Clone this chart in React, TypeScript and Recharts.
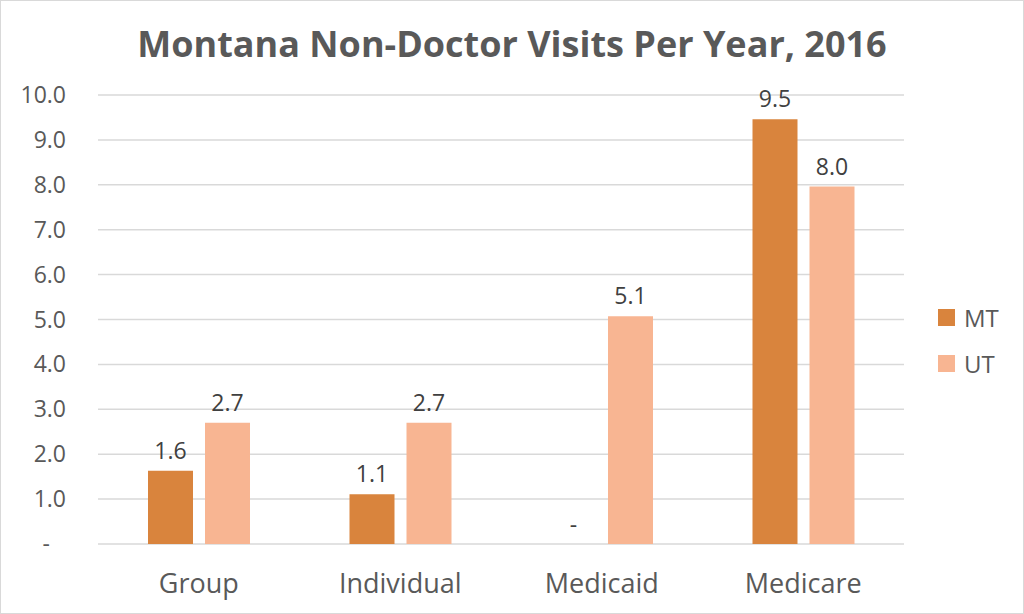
import { Bar, BarChart, CartesianGrid, LabelList, Rectangle, XAxis, YAxis } from 'recharts';

const categories = ['Group', 'Individual', 'Medicaid', 'Medicare'];
const mtValues = [1.63, 1.11, 0, 9.46];
const utValues = [2.7, 2.7, 5.07, 7.96];
const yTicks = [0, 1, 2, 3, 4, 5, 6, 7, 8, 9, 10];
const seriesNames = ['MT', 'UT'];
const seriesColors = ['#d9843d', '#f8b592'];

const data = categories.map((name, i) => ({ name, MT: mtValues[i], UT: utValues[i] }));

const font = '"Open Sans", "DejaVu Sans", sans-serif';
const textColor = '#595959';

const formatLabel = (v: unknown) => {
  const n = Number(v);
  return n === 0 ? '-' : n.toFixed(1);
};

function YTick(props: any) {
  const { x, y, payload } = props;
  const v = payload.value as number;
  return (
    <text
      x={v === 0 ? x - 16 : x}
      y={y}
      dy={8}
      textAnchor="end"
      fill={textColor}
      fontSize={23}
      fontFamily={font}
    >
      {v === 0 ? '-' : v.toFixed(1)}
    </text>
  );
}

function BarLabel(props: any) {
  const { x, y, width, value } = props;
  const zero = Number(value) === 0;
  return (
    <text
      x={x + width / 2}
      y={zero ? y - 10 : y - 12}
      textAnchor="middle"
      fill="#404040"
      fontSize={23}
      fontFamily={font}
    >
      {formatLabel(value)}
    </text>
  );
}

// zero values get a 1px placeholder so the "-" label is drawn, but the rect itself is hidden
function BarShape(props: any) {
  if (props.height <= 1) return <g />;
  return <Rectangle {...props} />;
}

export default function App() {
  return (
    <div
      style={{
        position: 'absolute',
        left: 0,
        top: 0,
        width: 1024,
        height: 614,
        boxSizing: 'border-box',
        border: '1px solid #d9d9d9',
        background: '#fff',
        fontFamily: font
      }}
    >
      <div
        style={{
          position: 'absolute',
          top: 18,
          left: 0,
          width: 1022,
          textAlign: 'center',
          fontSize: 36,
          fontWeight: 700,
          color: textColor,
          lineHeight: '50px'
        }}
      >
        Montana Non-Doctor Visits Per Year, 2016
      </div>
      <BarChart
        width={1022}
        height={612}
        data={data}
        margin={{ top: 94, right: 119, bottom: 0, left: 0 }}
        barGap={12}
        barSize={45}
      >
        <CartesianGrid stroke="#d9d9d9" strokeWidth={1.5} vertical={false} />
        <XAxis
          dataKey="name"
          height={69}
          axisLine={false}
          tickLine={false}
          tickSize={0}
          tickMargin={30}
          tick={{ fill: textColor, fontSize: 27, fontFamily: font }}
        />
        <YAxis
          width={97}
          domain={[0, 10]}
          ticks={yTicks}
          interval={0}
          axisLine={false}
          tickLine={false}
          tickSize={0}
          tickMargin={32}
          tick={<YTick />}
        />
        <Bar
          dataKey="MT"
          fill={seriesColors[0]}
          minPointSize={1}
          shape={<BarShape />}
          isAnimationActive={false}
        >
          <LabelList dataKey="MT" content={<BarLabel />} />
        </Bar>
        <Bar dataKey="UT" fill={seriesColors[1]} isAnimationActive={false}>
          <LabelList dataKey="UT" content={<BarLabel />} />
        </Bar>
      </BarChart>
      <div style={{ position: 'absolute', left: 937, top: 293 }}>
        {seriesNames.map((name, i) => (
          <div
            key={name}
            style={{ display: 'flex', alignItems: 'center', height: 46, fontSize: 24, color: textColor }}
          >
            <span style={{ width: 17, height: 17, background: seriesColors[i], marginRight: 9 }} />
            <span>{name}</span>
          </div>
        ))}
      </div>
    </div>
  );
}
